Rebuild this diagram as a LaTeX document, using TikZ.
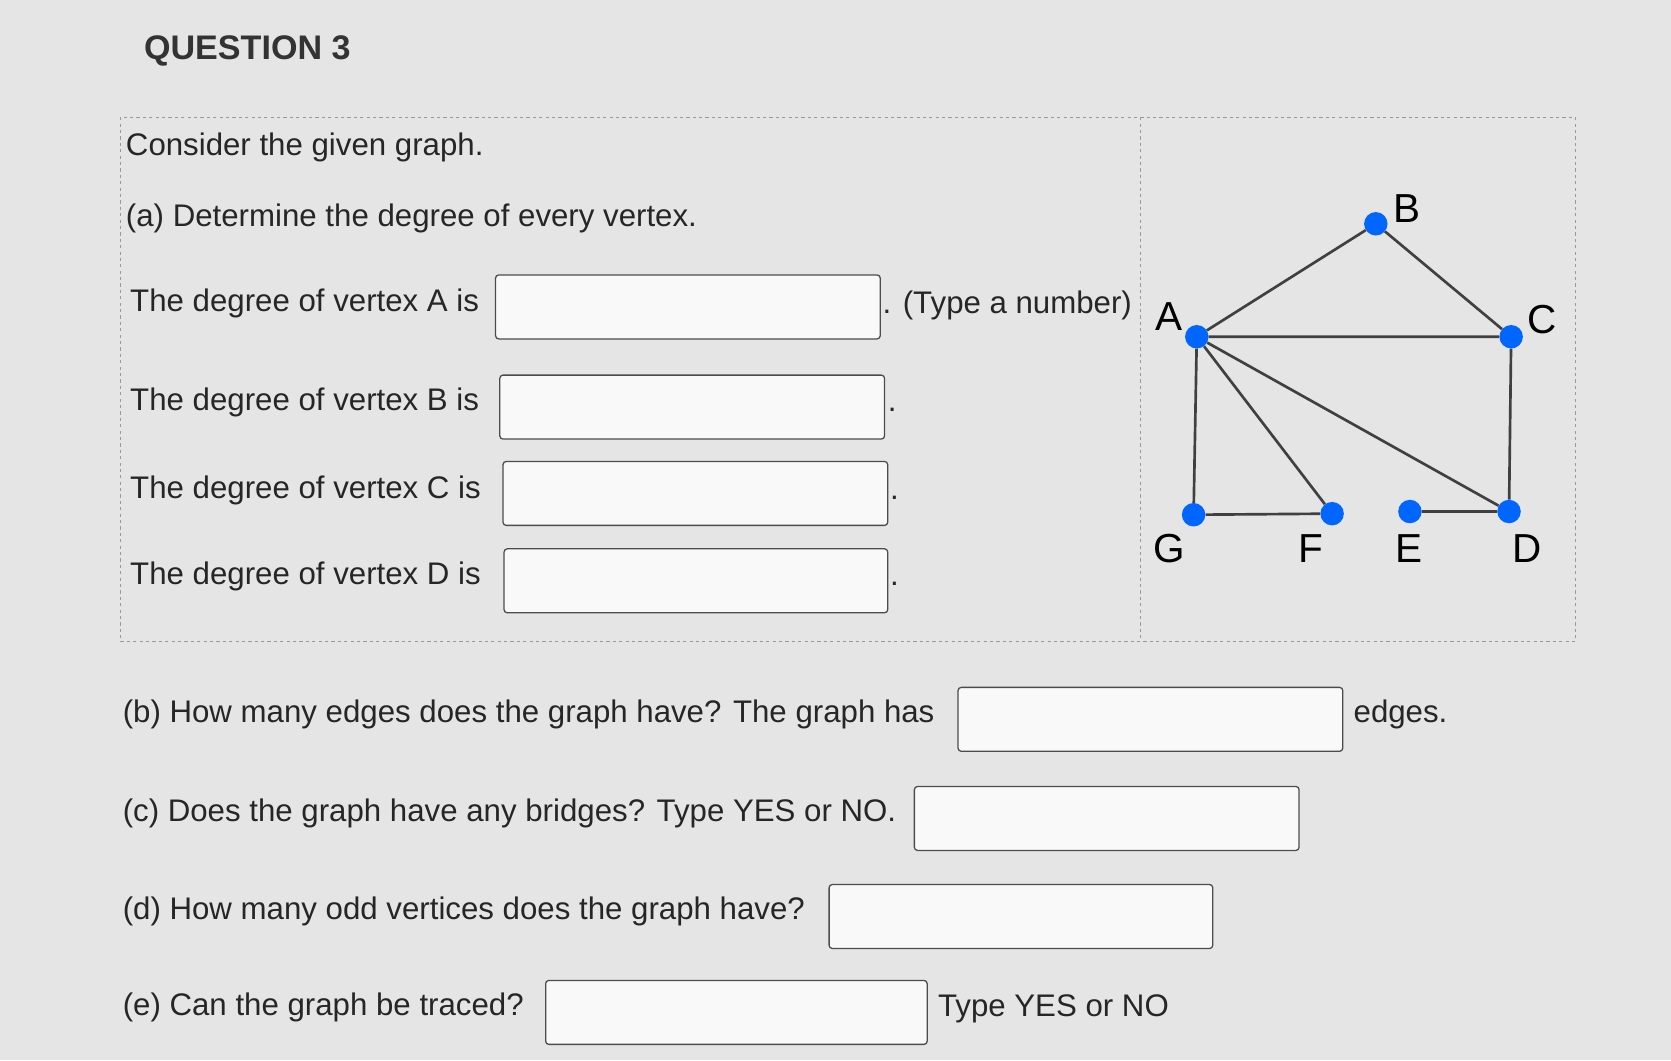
\documentclass[tikz,border=0pt]{standalone}
\usepackage{fontspec}
\setmainfont{Liberation Sans}
\begin{document}
\begin{tikzpicture}[x=1pt,y=-1pt,
  txt/.style={anchor=west,inner sep=0pt,font=\fontsize{29.3}{32}\selectfont,text=black!85},
  ansbox/.style={draw=black!70,line width=1.2pt,rounded corners=3pt,fill=white!95!gray},
  vtx/.style={circle,fill=blue!60!cyan,inner sep=0pt,minimum size=22pt},
  edge/.style={line width=2.5pt,draw=black!75},
  vlab/.style={inner sep=0pt,font=\fontsize{38}{40}\selectfont}]
\fill[black!10] (0,0) rectangle (1568,995);
\useasboundingbox (0,0) rectangle (1568,995);
\node[inner sep=0pt,anchor=west,font=\fontsize{32}{34}\selectfont\bfseries,text=black!80] (q) at (135,48) {QUESTION 3};
\draw[black!40,dashed,line width=1pt] (113,110) rectangle (1478,602);
\draw[black!40,dashed,line width=1pt] (1070,110) -- (1070,602);
\node[txt] (t0) at (118,138) {Consider the given graph.};
\node[txt] (t1) at (118,205) {(a) Determine the degree of every vertex.};
\node[txt] (ta) at (122,285) {The degree of vertex A is};
\draw[ansbox] (465,258) rectangle (826,318);
\node[txt] (tan) at (828,287) {. (Type a number)};
\node[txt] (tb) at (122,378) {The degree of vertex B is};
\draw[ansbox] (469,352) rectangle (830,412);
\node[txt] (tb2) at (833,385) {.};
\node[txt] (tc) at (122,460) {The degree of vertex C is};
\draw[ansbox] (472,433) rectangle (833,493);
\node[txt] (tc2) at (835,467) {.};
\node[txt] (td) at (122,541) {The degree of vertex D is};
\draw[ansbox] (473,515) rectangle (833,575);
\node[txt] (td2) at (835,548) {.};
% graph
\node[vtx] (A) at (1123,316) {};
\node[vtx] (B) at (1291,210) {};
\node[vtx] (C) at (1418,316) {};
\node[vtx] (D) at (1416,480) {};
\node[vtx] (E) at (1323,480) {};
\node[vtx] (F) at (1250,482) {};
\node[vtx] (G) at (1120,483) {};
\draw[edge] (A)--(B) (B)--(C) (A)--(C) (A)--(G) (A)--(F) (A)--(D) (C)--(D) (G)--(F) (E)--(D);
\node[vlab] (lA) at (1097,297) {A};
\node[vlab] (lB) at (1320,196) {B};
\node[vlab] (lC) at (1447,300) {C};
\node[vlab] (lD) at (1433,515) {D};
\node[vlab] (lE) at (1322,515) {E};
\node[vlab] (lF) at (1230,515) {F};
\node[vlab] (lG) at (1097,515) {G};
% lower part
\node[txt] (pb) at (115,670) {(b) How many edges does the graph have? The graph has};
\draw[ansbox] (899,645) rectangle (1260,705);
\node[txt] (pb2) at (1270,670) {edges.};
\node[txt] (pc) at (115,763) {(c) Does the graph have any bridges? Type YES or NO.};
\draw[ansbox] (858,738) rectangle (1219,798);
\node[txt] (pd) at (115,855) {(d) How many odd vertices does the graph have?};
\draw[ansbox] (778,830) rectangle (1138,890);
\node[txt] (pe) at (115,945) {(e) Can the graph be traced?};
\draw[ansbox] (512,920) rectangle (870,980);
\node[txt] (pe2) at (880,947) {Type YES or NO};
\end{tikzpicture}
\end{document}
